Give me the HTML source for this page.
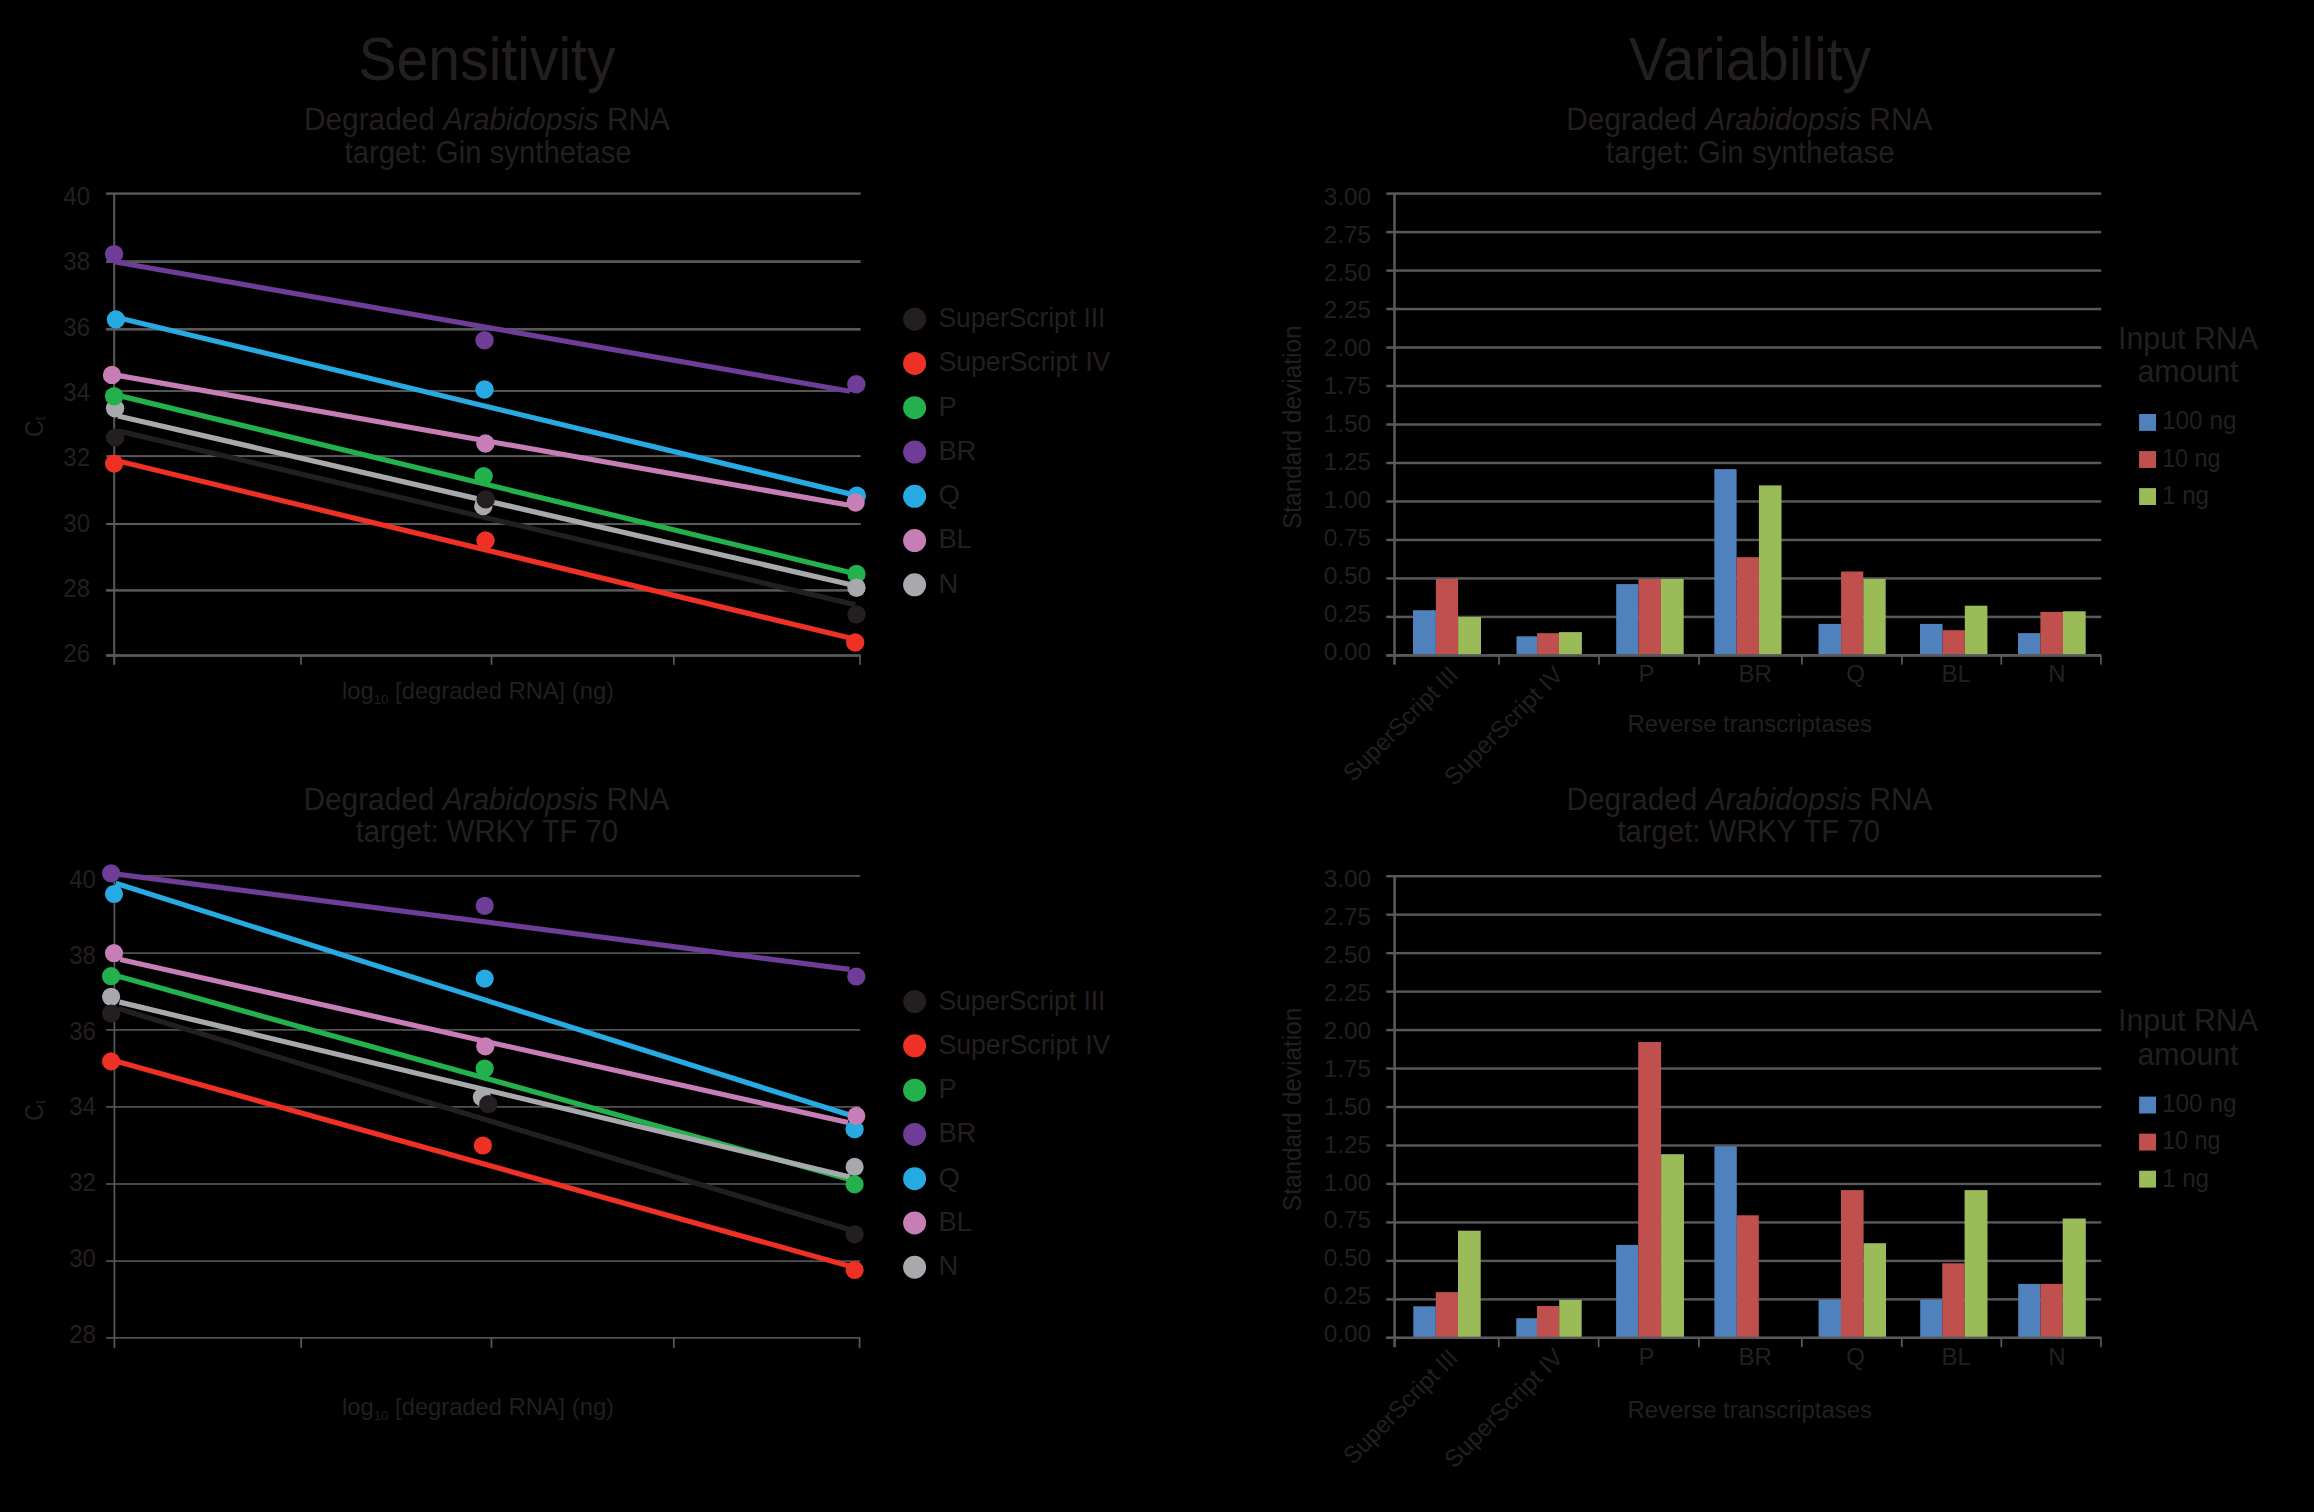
<!DOCTYPE html>
<html><head><meta charset="utf-8"><title>Sensitivity and Variability</title>
<style>
html,body{margin:0;padding:0;background:#000;}
body{width:2314px;height:1512px;overflow:hidden;}
svg{display:block;}
text{font-family:"Liberation Sans",sans-serif;fill:#231f20;}
.i{font-style:italic;}
</style></head><body>
<svg width="2314" height="1512" viewBox="0 0 2314 1512">
<rect width="2314" height="1512" fill="#000"/>
<text x="487" y="79.6" font-size="62" text-anchor="middle" textLength="257" lengthAdjust="spacingAndGlyphs">Sensitivity</text>
<text x="1750" y="79.6" font-size="62" text-anchor="middle" textLength="242" lengthAdjust="spacingAndGlyphs">Variability</text>
<text x="487" y="129.8" font-size="31" text-anchor="middle" textLength="366" lengthAdjust="spacingAndGlyphs">Degraded <tspan class="i">Arabidopsis</tspan> RNA</text>
<text x="488" y="162.6" font-size="31" text-anchor="middle" textLength="287" lengthAdjust="spacingAndGlyphs">target: Gin synthetase</text>
<text x="1749.3" y="129.8" font-size="31" text-anchor="middle" textLength="366" lengthAdjust="spacingAndGlyphs">Degraded <tspan class="i">Arabidopsis</tspan> RNA</text>
<text x="1750.3" y="162.6" font-size="31" text-anchor="middle" textLength="288.5" lengthAdjust="spacingAndGlyphs">target: Gin synthetase</text>
<text x="486.5" y="810.2" font-size="31" text-anchor="middle" textLength="366" lengthAdjust="spacingAndGlyphs">Degraded <tspan class="i">Arabidopsis</tspan> RNA</text>
<text x="486.9" y="842.3" font-size="31" text-anchor="middle" textLength="262.5" lengthAdjust="spacingAndGlyphs">target: WRKY TF 70</text>
<text x="1749.5" y="810.2" font-size="31" text-anchor="middle" textLength="366" lengthAdjust="spacingAndGlyphs">Degraded <tspan class="i">Arabidopsis</tspan> RNA</text>
<text x="1748.7" y="842.3" font-size="31" text-anchor="middle" textLength="262.5" lengthAdjust="spacingAndGlyphs">target: WRKY TF 70</text>
<rect x="106.1" y="192.4" width="754.5" height="2.4" fill="#58595b"/>
<rect x="106.1" y="260.2" width="754.5" height="2.8" fill="#58595b"/>
<rect x="106.1" y="327.95" width="754.5" height="2.7" fill="#58595b"/>
<rect x="106.1" y="390.05" width="754.5" height="1.9" fill="#58595b"/>
<rect x="106.1" y="455.1" width="754.5" height="2" fill="#58595b"/>
<rect x="106.1" y="522.95" width="754.5" height="2.1" fill="#58595b"/>
<rect x="106.1" y="589.15" width="754.5" height="2.5" fill="#58595b"/>
<rect x="106.1" y="654.1" width="754.5" height="2.8" fill="#58595b"/>
<text x="90" y="204.8" font-size="25.3" text-anchor="end" textLength="26.7" lengthAdjust="spacingAndGlyphs">40</text>
<text x="90" y="270.15" font-size="25.3" text-anchor="end" textLength="26.7" lengthAdjust="spacingAndGlyphs">38</text>
<text x="90" y="335.5" font-size="25.3" text-anchor="end" textLength="26.7" lengthAdjust="spacingAndGlyphs">36</text>
<text x="90" y="400.85" font-size="25.3" text-anchor="end" textLength="26.7" lengthAdjust="spacingAndGlyphs">34</text>
<text x="90" y="466.2" font-size="25.3" text-anchor="end" textLength="26.7" lengthAdjust="spacingAndGlyphs">32</text>
<text x="90" y="531.55" font-size="25.3" text-anchor="end" textLength="26.7" lengthAdjust="spacingAndGlyphs">30</text>
<text x="90" y="596.9" font-size="25.3" text-anchor="end" textLength="26.7" lengthAdjust="spacingAndGlyphs">28</text>
<text x="90" y="662.25" font-size="25.3" text-anchor="end" textLength="26.7" lengthAdjust="spacingAndGlyphs">26</text>
<rect x="113.2" y="193.6" width="2" height="471.2" fill="#58595b"/>
<rect x="300.15" y="655.5" width="1.7" height="9.3" fill="#58595b"/>
<rect x="490.65" y="655.5" width="1.7" height="9.3" fill="#58595b"/>
<rect x="672.95" y="655.5" width="1.7" height="9.3" fill="#58595b"/>
<rect x="859.15" y="655.5" width="1.7" height="9.3" fill="#58595b"/>
<line x1="114" y1="261.7" x2="850" y2="391.3" stroke="#6f3c97" stroke-width="5.2"/>
<line x1="116" y1="317.2" x2="856" y2="495.4" stroke="#27aae1" stroke-width="5.2"/>
<line x1="112" y1="374.4" x2="848" y2="505" stroke="#c77db5" stroke-width="5.2"/>
<line x1="114" y1="394.4" x2="856.5" y2="574" stroke="#22b14c" stroke-width="5.2"/>
<line x1="118" y1="416" x2="850" y2="584.5" stroke="#a7a9ac" stroke-width="5.2"/>
<line x1="118" y1="430.9" x2="855.2" y2="604.7" stroke="#231f20" stroke-width="5.2"/>
<line x1="114" y1="460" x2="850" y2="638" stroke="#ee3124" stroke-width="5.2"/>
<circle cx="114.1" cy="254.1" r="9.2" fill="#6f3c97"/>
<circle cx="115.9" cy="319.4" r="9.2" fill="#27aae1"/>
<circle cx="112" cy="374.9" r="9.2" fill="#c77db5"/>
<circle cx="115.1" cy="408.3" r="9.2" fill="#a7a9ac"/>
<circle cx="114.1" cy="396.3" r="9.2" fill="#22b14c"/>
<circle cx="115.1" cy="437.6" r="9.2" fill="#231f20"/>
<circle cx="114.1" cy="463.6" r="9.2" fill="#ee3124"/>
<circle cx="484.5" cy="340.3" r="9.2" fill="#6f3c97"/>
<circle cx="484.5" cy="389.5" r="9.2" fill="#27aae1"/>
<circle cx="485.4" cy="443.5" r="9.2" fill="#c77db5"/>
<circle cx="483.6" cy="476.2" r="9.2" fill="#22b14c"/>
<circle cx="483.3" cy="506.1" r="9.2" fill="#a7a9ac"/>
<circle cx="485.7" cy="499.2" r="9.2" fill="#231f20"/>
<circle cx="485.5" cy="540.5" r="9.2" fill="#ee3124"/>
<circle cx="856.3" cy="384.3" r="9.2" fill="#6f3c97"/>
<circle cx="856.8" cy="495.8" r="9.2" fill="#27aae1"/>
<circle cx="855.6" cy="502.5" r="9.2" fill="#c77db5"/>
<circle cx="856.5" cy="574" r="9.2" fill="#22b14c"/>
<circle cx="856.5" cy="587.8" r="9.2" fill="#a7a9ac"/>
<circle cx="856.5" cy="614.5" r="9.2" fill="#231f20"/>
<circle cx="855.2" cy="642.5" r="9.2" fill="#ee3124"/>
<circle cx="914.6" cy="319.2" r="11.5" fill="#231f20"/>
<text x="938.4" y="327.1" font-size="27.3" text-anchor="start" textLength="167" lengthAdjust="spacingAndGlyphs">SuperScript III</text>
<circle cx="914.6" cy="363.47" r="11.5" fill="#ee3124"/>
<text x="938.4" y="371.37" font-size="27.3" text-anchor="start" textLength="172" lengthAdjust="spacingAndGlyphs">SuperScript IV</text>
<circle cx="914.6" cy="407.74" r="11.5" fill="#22b14c"/>
<text x="938.4" y="415.64" font-size="27.3" text-anchor="start">P</text>
<circle cx="914.6" cy="452.01" r="11.5" fill="#6f3c97"/>
<text x="938.4" y="459.91" font-size="27.3" text-anchor="start">BR</text>
<circle cx="914.6" cy="496.28" r="11.5" fill="#27aae1"/>
<text x="938.4" y="504.18" font-size="27.3" text-anchor="start">Q</text>
<circle cx="914.6" cy="540.55" r="11.5" fill="#c77db5"/>
<text x="938.4" y="548.45" font-size="27.3" text-anchor="start">BL</text>
<circle cx="914.6" cy="584.82" r="11.5" fill="#a7a9ac"/>
<text x="938.4" y="592.72" font-size="27.3" text-anchor="start">N</text>
<text x="478" y="698.7" font-size="24" text-anchor="middle" textLength="272" lengthAdjust="spacingAndGlyphs">log<tspan font-size="13.5" dy="5">10</tspan><tspan dy="-5"> [degraded RNA] (ng)</tspan></text>
<text transform="translate(43.2,437) rotate(-90) scale(0.93,1)" font-size="25">C<tspan font-size="15.5" dy="2">t</tspan></text>
<rect x="106.1" y="875.1" width="754.1" height="1.6" fill="#58595b"/>
<rect x="106.1" y="952.3" width="754.1" height="1.6" fill="#58595b"/>
<rect x="106.1" y="1029.1" width="754.1" height="1.6" fill="#58595b"/>
<rect x="106.1" y="1106.1" width="754.1" height="1.6" fill="#58595b"/>
<rect x="106.1" y="1183.2" width="754.1" height="1.6" fill="#58595b"/>
<rect x="106.1" y="1260.3" width="754.1" height="1.6" fill="#58595b"/>
<rect x="106.1" y="1337.1" width="754.1" height="1.6" fill="#58595b"/>
<text x="95.9" y="887.8" font-size="25.3" text-anchor="end" textLength="26.7" lengthAdjust="spacingAndGlyphs">40</text>
<text x="95.9" y="963.68" font-size="25.3" text-anchor="end" textLength="26.7" lengthAdjust="spacingAndGlyphs">38</text>
<text x="95.9" y="1039.56" font-size="25.3" text-anchor="end" textLength="26.7" lengthAdjust="spacingAndGlyphs">36</text>
<text x="95.9" y="1115.44" font-size="25.3" text-anchor="end" textLength="26.7" lengthAdjust="spacingAndGlyphs">34</text>
<text x="95.9" y="1191.32" font-size="25.3" text-anchor="end" textLength="26.7" lengthAdjust="spacingAndGlyphs">32</text>
<text x="95.9" y="1267.2" font-size="25.3" text-anchor="end" textLength="26.7" lengthAdjust="spacingAndGlyphs">30</text>
<text x="95.9" y="1343.08" font-size="25.3" text-anchor="end" textLength="26.7" lengthAdjust="spacingAndGlyphs">28</text>
<rect x="113.55" y="875.9" width="1.7" height="471.9" fill="#58595b"/>
<rect x="300.35" y="1337.9" width="1.7" height="9.9" fill="#58595b"/>
<rect x="490.65" y="1337.9" width="1.7" height="9.9" fill="#58595b"/>
<rect x="672.95" y="1337.9" width="1.7" height="9.9" fill="#58595b"/>
<rect x="858.75" y="1337.9" width="1.7" height="9.9" fill="#58595b"/>
<line x1="111.1" y1="873.3" x2="849.5" y2="969.4" stroke="#6f3c97" stroke-width="5.2"/>
<line x1="115.6" y1="883.3" x2="848" y2="1114.6" stroke="#27aae1" stroke-width="5.2"/>
<line x1="120.3" y1="959.5" x2="848" y2="1122.5" stroke="#c77db5" stroke-width="5.2"/>
<line x1="111.1" y1="974.3" x2="849" y2="1179.2" stroke="#22b14c" stroke-width="5.2"/>
<line x1="119.5" y1="1002.1" x2="850" y2="1177" stroke="#a7a9ac" stroke-width="5.2"/>
<line x1="118" y1="1008.6" x2="850" y2="1229.8" stroke="#231f20" stroke-width="5.2"/>
<line x1="111" y1="1059.8" x2="850" y2="1266.2" stroke="#ee3124" stroke-width="5.2"/>
<circle cx="111.1" cy="873.3" r="9.1" fill="#6f3c97"/>
<circle cx="114" cy="894" r="9.1" fill="#27aae1"/>
<circle cx="114" cy="953.2" r="9.1" fill="#c77db5"/>
<circle cx="111.1" cy="976.2" r="9.1" fill="#22b14c"/>
<circle cx="111.1" cy="996.8" r="9.1" fill="#a7a9ac"/>
<circle cx="111.1" cy="1013.5" r="9.1" fill="#231f20"/>
<circle cx="111.1" cy="1061.4" r="9.1" fill="#ee3124"/>
<circle cx="484.7" cy="905.8" r="9.1" fill="#6f3c97"/>
<circle cx="484.7" cy="978.6" r="9.1" fill="#27aae1"/>
<circle cx="485.3" cy="1046.3" r="9.1" fill="#c77db5"/>
<circle cx="484.7" cy="1068.5" r="9.1" fill="#22b14c"/>
<circle cx="481.9" cy="1097.3" r="9.1" fill="#a7a9ac"/>
<circle cx="488.3" cy="1104.2" r="9.1" fill="#231f20"/>
<circle cx="482.9" cy="1145.5" r="9.1" fill="#ee3124"/>
<circle cx="856.3" cy="976.5" r="9.1" fill="#6f3c97"/>
<circle cx="854.6" cy="1129.2" r="9.1" fill="#27aae1"/>
<circle cx="856.3" cy="1115.9" r="9.1" fill="#c77db5"/>
<circle cx="854.6" cy="1166.9" r="9.1" fill="#a7a9ac"/>
<circle cx="854.6" cy="1184.4" r="9.1" fill="#22b14c"/>
<circle cx="854.6" cy="1234.3" r="9.1" fill="#231f20"/>
<circle cx="854.6" cy="1270" r="9.1" fill="#ee3124"/>
<circle cx="914.6" cy="1001.6" r="11.5" fill="#231f20"/>
<text x="938.4" y="1009.5" font-size="27.3" text-anchor="start" textLength="167" lengthAdjust="spacingAndGlyphs">SuperScript III</text>
<circle cx="914.6" cy="1045.87" r="11.5" fill="#ee3124"/>
<text x="938.4" y="1053.77" font-size="27.3" text-anchor="start" textLength="172" lengthAdjust="spacingAndGlyphs">SuperScript IV</text>
<circle cx="914.6" cy="1090.14" r="11.5" fill="#22b14c"/>
<text x="938.4" y="1098.04" font-size="27.3" text-anchor="start">P</text>
<circle cx="914.6" cy="1134.41" r="11.5" fill="#6f3c97"/>
<text x="938.4" y="1142.31" font-size="27.3" text-anchor="start">BR</text>
<circle cx="914.6" cy="1178.68" r="11.5" fill="#27aae1"/>
<text x="938.4" y="1186.58" font-size="27.3" text-anchor="start">Q</text>
<circle cx="914.6" cy="1222.95" r="11.5" fill="#c77db5"/>
<text x="938.4" y="1230.85" font-size="27.3" text-anchor="start">BL</text>
<circle cx="914.6" cy="1267.22" r="11.5" fill="#a7a9ac"/>
<text x="938.4" y="1275.12" font-size="27.3" text-anchor="start">N</text>
<text x="478" y="1414.5" font-size="24" text-anchor="middle" textLength="272" lengthAdjust="spacingAndGlyphs">log<tspan font-size="13.5" dy="5">10</tspan><tspan dy="-5"> [degraded RNA] (ng)</tspan></text>
<text transform="translate(43.2,1120.7) rotate(-90) scale(0.93,1)" font-size="25">C<tspan font-size="15.5" dy="2">t</tspan></text>
<rect x="1386.3" y="192.35" width="714.9" height="2.5" fill="#58595b"/>
<rect x="1386.3" y="230.83" width="714.9" height="2.5" fill="#58595b"/>
<rect x="1386.3" y="269.32" width="714.9" height="2.5" fill="#58595b"/>
<rect x="1386.3" y="307.8" width="714.9" height="2.5" fill="#58595b"/>
<rect x="1386.3" y="346.28" width="714.9" height="2.5" fill="#58595b"/>
<rect x="1386.3" y="384.76" width="714.9" height="2.5" fill="#58595b"/>
<rect x="1386.3" y="423.25" width="714.9" height="2.5" fill="#58595b"/>
<rect x="1386.3" y="461.73" width="714.9" height="2.5" fill="#58595b"/>
<rect x="1386.3" y="500.21" width="714.9" height="2.5" fill="#58595b"/>
<rect x="1386.3" y="538.7" width="714.9" height="2.5" fill="#58595b"/>
<rect x="1386.3" y="577.18" width="714.9" height="2.5" fill="#58595b"/>
<rect x="1386.3" y="615.66" width="714.9" height="2.5" fill="#58595b"/>
<rect x="1386.3" y="654.15" width="714.9" height="2.5" fill="#58595b"/>
<text x="1371.2" y="204.7" font-size="23.5" text-anchor="end" textLength="47.5" lengthAdjust="spacingAndGlyphs">3.00</text>
<text x="1371.2" y="242.6" font-size="23.5" text-anchor="end" textLength="47.5" lengthAdjust="spacingAndGlyphs">2.75</text>
<text x="1371.2" y="280.5" font-size="23.5" text-anchor="end" textLength="47.5" lengthAdjust="spacingAndGlyphs">2.50</text>
<text x="1371.2" y="318.4" font-size="23.5" text-anchor="end" textLength="47.5" lengthAdjust="spacingAndGlyphs">2.25</text>
<text x="1371.2" y="356.3" font-size="23.5" text-anchor="end" textLength="47.5" lengthAdjust="spacingAndGlyphs">2.00</text>
<text x="1371.2" y="394.2" font-size="23.5" text-anchor="end" textLength="47.5" lengthAdjust="spacingAndGlyphs">1.75</text>
<text x="1371.2" y="432.1" font-size="23.5" text-anchor="end" textLength="47.5" lengthAdjust="spacingAndGlyphs">1.50</text>
<text x="1371.2" y="470" font-size="23.5" text-anchor="end" textLength="47.5" lengthAdjust="spacingAndGlyphs">1.25</text>
<text x="1371.2" y="507.9" font-size="23.5" text-anchor="end" textLength="47.5" lengthAdjust="spacingAndGlyphs">1.00</text>
<text x="1371.2" y="545.8" font-size="23.5" text-anchor="end" textLength="47.5" lengthAdjust="spacingAndGlyphs">0.75</text>
<text x="1371.2" y="583.7" font-size="23.5" text-anchor="end" textLength="47.5" lengthAdjust="spacingAndGlyphs">0.50</text>
<text x="1371.2" y="621.6" font-size="23.5" text-anchor="end" textLength="47.5" lengthAdjust="spacingAndGlyphs">0.25</text>
<text x="1371.2" y="659.5" font-size="23.5" text-anchor="end" textLength="47.5" lengthAdjust="spacingAndGlyphs">0.00</text>
<rect x="1393.2" y="193.6" width="2.6" height="471" fill="#58595b"/>
<rect x="1498.15" y="655.4" width="1.7" height="9.2" fill="#58595b"/>
<rect x="1598.15" y="655.4" width="1.7" height="9.2" fill="#58595b"/>
<rect x="1698.15" y="655.4" width="1.7" height="9.2" fill="#58595b"/>
<rect x="1801.05" y="655.4" width="1.7" height="9.2" fill="#58595b"/>
<rect x="1901.05" y="655.4" width="1.7" height="9.2" fill="#58595b"/>
<rect x="2000.45" y="655.4" width="1.7" height="9.2" fill="#58595b"/>
<rect x="2100.05" y="655.4" width="1.7" height="9.2" fill="#58595b"/>
<rect x="1413" y="610.2" width="22.9" height="45.2" fill="#4f81bd"/>
<rect x="1435.9" y="578.9" width="22.2" height="76.5" fill="#c0504d"/>
<rect x="1458.1" y="617" width="22.9" height="38.4" fill="#9bbb59"/>
<rect x="1516.5" y="636.3" width="20.6" height="19.1" fill="#4f81bd"/>
<rect x="1537.1" y="633.2" width="21.9" height="22.2" fill="#c0504d"/>
<rect x="1559" y="632.1" width="22.9" height="23.3" fill="#9bbb59"/>
<rect x="1616.2" y="584.1" width="22.2" height="71.3" fill="#4f81bd"/>
<rect x="1638.4" y="579" width="22.6" height="76.4" fill="#c0504d"/>
<rect x="1661" y="579" width="22.7" height="76.4" fill="#9bbb59"/>
<rect x="1714.3" y="469.1" width="22.3" height="186.3" fill="#4f81bd"/>
<rect x="1736.6" y="557.2" width="22.3" height="98.2" fill="#c0504d"/>
<rect x="1758.9" y="485.4" width="22.6" height="170" fill="#9bbb59"/>
<rect x="1818.5" y="623.9" width="22.6" height="31.5" fill="#4f81bd"/>
<rect x="1841.1" y="571.5" width="22.2" height="83.9" fill="#c0504d"/>
<rect x="1863.3" y="578.9" width="22.4" height="76.5" fill="#9bbb59"/>
<rect x="1920" y="623.9" width="22.6" height="31.5" fill="#4f81bd"/>
<rect x="1942.6" y="630.2" width="22.2" height="25.2" fill="#c0504d"/>
<rect x="1964.8" y="605.7" width="22.6" height="49.7" fill="#9bbb59"/>
<rect x="2018" y="633.1" width="22.4" height="22.3" fill="#4f81bd"/>
<rect x="2040.4" y="611.9" width="22.6" height="43.5" fill="#c0504d"/>
<rect x="2063" y="611.3" width="22.7" height="44.1" fill="#9bbb59"/>
<rect x="1386.3" y="654.15" width="714.9" height="2.5" fill="#58595b"/>
<rect x="1386.3" y="875" width="714.9" height="2.4" fill="#58595b"/>
<rect x="1386.3" y="913.47" width="714.9" height="2.4" fill="#58595b"/>
<rect x="1386.3" y="951.94" width="714.9" height="2.4" fill="#58595b"/>
<rect x="1386.3" y="990.41" width="714.9" height="2.4" fill="#58595b"/>
<rect x="1386.3" y="1028.88" width="714.9" height="2.4" fill="#58595b"/>
<rect x="1386.3" y="1067.35" width="714.9" height="2.4" fill="#58595b"/>
<rect x="1386.3" y="1105.82" width="714.9" height="2.4" fill="#58595b"/>
<rect x="1386.3" y="1144.29" width="714.9" height="2.4" fill="#58595b"/>
<rect x="1386.3" y="1182.76" width="714.9" height="2.4" fill="#58595b"/>
<rect x="1386.3" y="1221.23" width="714.9" height="2.4" fill="#58595b"/>
<rect x="1386.3" y="1259.7" width="714.9" height="2.4" fill="#58595b"/>
<rect x="1386.3" y="1298.17" width="714.9" height="2.4" fill="#58595b"/>
<rect x="1386.3" y="1336.64" width="714.9" height="2.4" fill="#58595b"/>
<text x="1371.2" y="887.3" font-size="23.5" text-anchor="end" textLength="47.5" lengthAdjust="spacingAndGlyphs">3.00</text>
<text x="1371.2" y="925.2" font-size="23.5" text-anchor="end" textLength="47.5" lengthAdjust="spacingAndGlyphs">2.75</text>
<text x="1371.2" y="963.1" font-size="23.5" text-anchor="end" textLength="47.5" lengthAdjust="spacingAndGlyphs">2.50</text>
<text x="1371.2" y="1001" font-size="23.5" text-anchor="end" textLength="47.5" lengthAdjust="spacingAndGlyphs">2.25</text>
<text x="1371.2" y="1038.9" font-size="23.5" text-anchor="end" textLength="47.5" lengthAdjust="spacingAndGlyphs">2.00</text>
<text x="1371.2" y="1076.8" font-size="23.5" text-anchor="end" textLength="47.5" lengthAdjust="spacingAndGlyphs">1.75</text>
<text x="1371.2" y="1114.7" font-size="23.5" text-anchor="end" textLength="47.5" lengthAdjust="spacingAndGlyphs">1.50</text>
<text x="1371.2" y="1152.6" font-size="23.5" text-anchor="end" textLength="47.5" lengthAdjust="spacingAndGlyphs">1.25</text>
<text x="1371.2" y="1190.5" font-size="23.5" text-anchor="end" textLength="47.5" lengthAdjust="spacingAndGlyphs">1.00</text>
<text x="1371.2" y="1228.4" font-size="23.5" text-anchor="end" textLength="47.5" lengthAdjust="spacingAndGlyphs">0.75</text>
<text x="1371.2" y="1266.3" font-size="23.5" text-anchor="end" textLength="47.5" lengthAdjust="spacingAndGlyphs">0.50</text>
<text x="1371.2" y="1304.2" font-size="23.5" text-anchor="end" textLength="47.5" lengthAdjust="spacingAndGlyphs">0.25</text>
<text x="1371.2" y="1342.1" font-size="23.5" text-anchor="end" textLength="47.5" lengthAdjust="spacingAndGlyphs">0.00</text>
<rect x="1393.3" y="876.2" width="2.6" height="471" fill="#58595b"/>
<rect x="1497.85" y="1337.84" width="1.7" height="9.36" fill="#58595b"/>
<rect x="1597.75" y="1337.84" width="1.7" height="9.36" fill="#58595b"/>
<rect x="1698.05" y="1337.84" width="1.7" height="9.36" fill="#58595b"/>
<rect x="1800.95" y="1337.84" width="1.7" height="9.36" fill="#58595b"/>
<rect x="1900.95" y="1337.84" width="1.7" height="9.36" fill="#58595b"/>
<rect x="2000.45" y="1337.84" width="1.7" height="9.36" fill="#58595b"/>
<rect x="2100.05" y="1337.84" width="1.7" height="9.36" fill="#58595b"/>
<rect x="1413.3" y="1306.3" width="22.5" height="31.54" fill="#4f81bd"/>
<rect x="1435.8" y="1292.1" width="22.2" height="45.74" fill="#c0504d"/>
<rect x="1458" y="1230.7" width="22.7" height="107.14" fill="#9bbb59"/>
<rect x="1516.3" y="1318.2" width="20.7" height="19.64" fill="#4f81bd"/>
<rect x="1537" y="1306" width="22.2" height="31.84" fill="#c0504d"/>
<rect x="1559.2" y="1300" width="22.5" height="37.84" fill="#9bbb59"/>
<rect x="1616.1" y="1244.9" width="22.1" height="92.94" fill="#4f81bd"/>
<rect x="1638.2" y="1042" width="22.9" height="295.84" fill="#c0504d"/>
<rect x="1661.1" y="1154.2" width="22.9" height="183.64" fill="#9bbb59"/>
<rect x="1714.4" y="1146.3" width="22.4" height="191.54" fill="#4f81bd"/>
<rect x="1736.8" y="1215.3" width="22" height="122.54" fill="#c0504d"/>
<rect x="1818.6" y="1299.7" width="22.4" height="38.14" fill="#4f81bd"/>
<rect x="1841" y="1190.1" width="22.6" height="147.74" fill="#c0504d"/>
<rect x="1863.6" y="1243.2" width="22.4" height="94.64" fill="#9bbb59"/>
<rect x="1920.2" y="1299.7" width="22.1" height="38.14" fill="#4f81bd"/>
<rect x="1942.3" y="1263.3" width="22.3" height="74.54" fill="#c0504d"/>
<rect x="1964.6" y="1190.1" width="22.9" height="147.74" fill="#9bbb59"/>
<rect x="2018.2" y="1283.9" width="22.3" height="53.94" fill="#4f81bd"/>
<rect x="2040.5" y="1283.9" width="22.2" height="53.94" fill="#c0504d"/>
<rect x="2062.7" y="1218.5" width="23.1" height="119.34" fill="#9bbb59"/>
<rect x="1386.3" y="1336.64" width="714.9" height="2.4" fill="#58595b"/>
<text x="1646.5" y="682" font-size="24" text-anchor="middle">P</text>
<text x="1755.1" y="682" font-size="24" text-anchor="middle">BR</text>
<text x="1855.6" y="682" font-size="24" text-anchor="middle">Q</text>
<text x="1956.3" y="682" font-size="24" text-anchor="middle">BL</text>
<text x="2056.9" y="682" font-size="24" text-anchor="middle">N</text>
<text transform="translate(1459.5,676.4) rotate(-45)" font-size="24" text-anchor="end" textLength="150.5" lengthAdjust="spacingAndGlyphs">SuperScript III</text>
<text transform="translate(1564.7,676) rotate(-45)" font-size="24" text-anchor="end" textLength="156.5" lengthAdjust="spacingAndGlyphs">SuperScript IV</text>
<text x="1749.7" y="732" font-size="23" text-anchor="middle" textLength="244.5" lengthAdjust="spacingAndGlyphs">Reverse transcriptases</text>
<text transform="translate(1300.8,427.2) rotate(-90)" font-size="25" text-anchor="middle" textLength="203.5" lengthAdjust="spacingAndGlyphs">Standard deviation</text>
<text x="2188" y="348.6" font-size="32" text-anchor="middle" textLength="140" lengthAdjust="spacingAndGlyphs">Input RNA</text>
<text x="2188" y="382" font-size="32" text-anchor="middle" textLength="101" lengthAdjust="spacingAndGlyphs">amount</text>
<rect x="2139.1" y="414" width="16.9" height="16.9" fill="#4f81bd"/>
<text x="2162" y="429" font-size="25" text-anchor="start" textLength="74.5" lengthAdjust="spacingAndGlyphs">100 ng</text>
<rect x="2139.1" y="451.05" width="16.9" height="16.9" fill="#c0504d"/>
<text x="2162" y="466.6" font-size="25" text-anchor="start" textLength="58.5" lengthAdjust="spacingAndGlyphs">10 ng</text>
<rect x="2139.1" y="488.1" width="16.9" height="16.9" fill="#9bbb59"/>
<text x="2162" y="504.2" font-size="25" text-anchor="start" textLength="47" lengthAdjust="spacingAndGlyphs">1 ng</text>
<text x="1646.5" y="1364.6" font-size="24" text-anchor="middle">P</text>
<text x="1755.1" y="1364.6" font-size="24" text-anchor="middle">BR</text>
<text x="1855.6" y="1364.6" font-size="24" text-anchor="middle">Q</text>
<text x="1956.3" y="1364.6" font-size="24" text-anchor="middle">BL</text>
<text x="2056.9" y="1364.6" font-size="24" text-anchor="middle">N</text>
<text transform="translate(1459.5,1359) rotate(-45)" font-size="24" text-anchor="end" textLength="150.5" lengthAdjust="spacingAndGlyphs">SuperScript III</text>
<text transform="translate(1564.7,1358.6) rotate(-45)" font-size="24" text-anchor="end" textLength="156.5" lengthAdjust="spacingAndGlyphs">SuperScript IV</text>
<text x="1749.7" y="1417.5" font-size="23" text-anchor="middle" textLength="244.5" lengthAdjust="spacingAndGlyphs">Reverse transcriptases</text>
<text transform="translate(1300.8,1109.4) rotate(-90)" font-size="25" text-anchor="middle" textLength="203.5" lengthAdjust="spacingAndGlyphs">Standard deviation</text>
<text x="2188" y="1031.2" font-size="32" text-anchor="middle" textLength="140" lengthAdjust="spacingAndGlyphs">Input RNA</text>
<text x="2188" y="1064.6" font-size="32" text-anchor="middle" textLength="101" lengthAdjust="spacingAndGlyphs">amount</text>
<rect x="2139.1" y="1096.6" width="16.9" height="16.9" fill="#4f81bd"/>
<text x="2162" y="1111.6" font-size="25" text-anchor="start" textLength="74.5" lengthAdjust="spacingAndGlyphs">100 ng</text>
<rect x="2139.1" y="1133.65" width="16.9" height="16.9" fill="#c0504d"/>
<text x="2162" y="1149.2" font-size="25" text-anchor="start" textLength="58.5" lengthAdjust="spacingAndGlyphs">10 ng</text>
<rect x="2139.1" y="1170.7" width="16.9" height="16.9" fill="#9bbb59"/>
<text x="2162" y="1186.8" font-size="25" text-anchor="start" textLength="47" lengthAdjust="spacingAndGlyphs">1 ng</text>
</svg></body></html>
